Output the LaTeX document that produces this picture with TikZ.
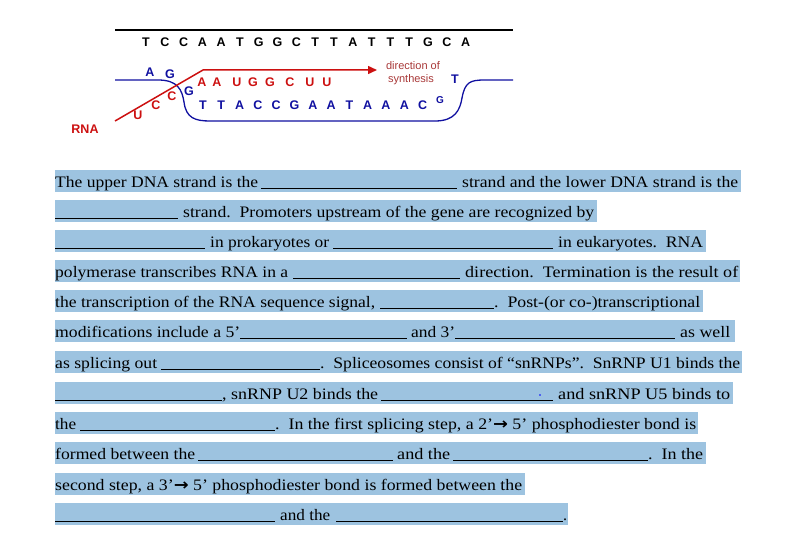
\documentclass[tikz,border=0pt]{standalone}
\usepackage{fontspec}
\usepackage{graphicx}
\setmainfont{Liberation Serif}
\newfontfamily\arial{Liberation Sans}
\newfontfamily\dv{DejaVu Sans}
\usetikzlibrary{arrows.meta}
\definecolor{hl}{HTML}{9DC3E0}
\definecolor{rnared}{HTML}{CC1010}
\definecolor{dnablue}{HTML}{1010A0}
\definecolor{dirred}{HTML}{A83838}
\newcommand{\arr}{{\dv\bfseries →}}
\begin{document}
\begin{tikzpicture}[x=1pt,y=-1pt,
  seq/.style={font=\arial\bfseries\fontsize{12.5}{12.5}\selectfont, inner sep=0pt},
  txt/.style={anchor=base west, inner sep=0pt, font=\fontsize{16}{16}\selectfont},
  blankline/.style={line width=0.6pt}]
\useasboundingbox (0,0) rectangle (806,543);
% ---------- diagram ----------
\draw[line width=1.5pt] (115,30) -- (513,30);
\foreach \c [count=\i from 0] in {T,C,C,A,A,T,G,G,C,T,T,A,T,T,T,G,C,A}
  \node[seq] (top\i) at ({146+\i*18.8},42) {\c};
\draw[dnablue, line width=1.3pt] (115,80) -- (158,80) .. controls (178,80) and (182,90) .. (184,102)
  .. controls (186,118) and (195,121) .. (210,121) -- (435,121)
  .. controls (455,121) and (460,110) .. (462,98) .. controls (465,82) and (470,80) .. (485,80) -- (513,80);
\draw[rnared, line width=1.5pt, -{Triangle[length=9pt,width=8pt]}] (115,121) -- (203,70) -- (377,70);
\foreach \c/\x in {A/202,A/217,U/237,G/253,G/270,C/290,U/310,U/327}
  \node[seq, text=rnared] at (\x,82) {\c};
\node[seq, text=rnared] at (138,115) {U};
\node[seq, text=rnared] at (156,105) {C};
\node[seq, text=rnared] at (172,96) {C};
\node[seq, text=dnablue] at (189,91) {G};
\node[seq, text=dnablue] at (150,72) {A};
\node[seq, text=dnablue] at (170,74) {G};
\foreach \c [count=\i from 0] in {T,T,A,C,C,G,A,A,T,A,A,A,C}
  \node[seq, text=dnablue] at ({203+\i*18.3},105) {\c};
\node[seq, text=dnablue, font=\arial\bfseries\fontsize{10}{10}\selectfont] at (440,100) {G};
\node[seq, text=dnablue] at (455,79) {T};
\node[text=dirred, font=\arial\fontsize{11}{11}\selectfont, inner sep=0pt] (dir1) at (413,66) {direction of};
\node[text=dirred, font=\arial\fontsize{11}{11}\selectfont, inner sep=0pt] (dir2) at (411,80) {synthesis};
\node[text=rnared, font=\arial\bfseries\fontsize{12.5}{12.5}\selectfont, inner sep=0pt] (rna) at (85,129) {RNA};
% ---------- text ----------
\newcommand{\hlbar}[2]{\fill[hl] (55,#2-12) rectangle (#1,#2+10);}
\newcommand{\seg}[4]{\node[txt] at (#1,#3+5) {\resizebox{\dimexpr#2pt-#1pt\relax}{\height}{\strut #4}};}
\newcommand{\blank}[3]{\draw[blankline] (#1,#3+6) -- (#2,#3+6);}
% L1
\hlbar{741}{182}
\seg{55}{258}{182}{The upper DNA strand is the}
\blank{261}{457}{182}
\seg{462}{738}{182}{strand and the lower DNA strand is the}
% L2
\hlbar{597}{212}
\blank{55}{178}{212}
\seg{183}{594}{212}{strand.\ \ Promoters upstream of the gene are recognized by}
% L3
\hlbar{706}{242}
\blank{55}{205}{242}
\seg{210}{329}{242}{in prokaryotes or}
\blank{333}{553}{242}
\seg{558}{703}{242}{in eukaryotes.\ \ RNA}
% L4
\hlbar{740}{272}
\seg{55}{288}{272}{polymerase transcribes RNA in a}
\blank{293}{460}{272}
\seg{465}{738}{272}{direction.\ \ Termination is the result of}
% L5
\hlbar{703}{302}
\seg{55}{375}{302}{the transcription of the RNA sequence signal,}
\blank{380}{494}{302}
\seg{494}{700}{302}{.\ \ Post-(or co-)transcriptional}
% L6
\hlbar{735}{332}
\seg{55}{240}{332}{modifications include a 5’}
\blank{240}{407}{332}
\seg{411}{455}{332}{and 3’}
\blank{455}{675}{332}
\seg{680}{730}{332}{as well}
% L7
\hlbar{742}{363}
\seg{55}{157}{363}{as splicing out}
\blank{161}{320}{363}
\seg{320}{740}{363}{.\ \ Spliceosomes consist of “snRNPs”.\ \ SnRNP U1 binds the}
% L8
\hlbar{733}{394}
\blank{55}{222}{394}
\seg{222}{378}{394}{, snRNP U2 binds the}
\blank{381}{553}{394}
\fill[blue] (540,395) circle (0.9);
\seg{558}{730}{394}{and snRNP U5 binds to}
% L9
\hlbar{698}{424}
\seg{55}{76}{424}{the}
\blank{80}{275}{424}
\seg{275}{696}{424}{.\ \ In the first splicing step, a 2’\arr\ 5’ phosphodiester bond is}
% L10
\hlbar{706}{454}
\seg{55}{195}{454}{formed between the}
\blank{198}{393}{454}
\seg{397}{450}{454}{and the}
\blank{453}{648}{454}
\seg{648}{703}{454}{.\ \ In the}
% L11
\hlbar{525}{485}
\seg{55}{522}{485}{second step, a 3’\arr\ 5’ phosphodiester bond is formed between the}
% L12
\hlbar{568}{515}
\blank{55}{275}{515}
\seg{280}{330}{515}{and the}
\blank{336}{563}{515}
\seg{563}{567}{515}{.}
\end{tikzpicture}
\end{document}
